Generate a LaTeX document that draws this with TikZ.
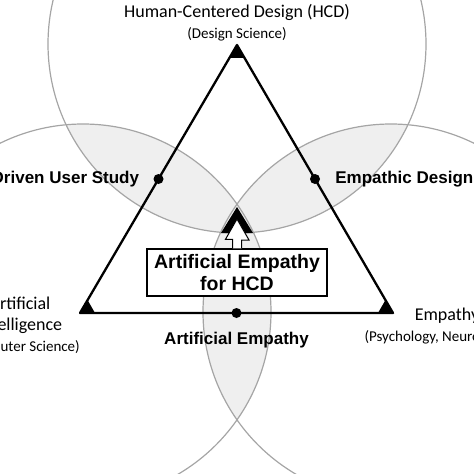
\documentclass[tikz,border=0pt]{standalone}
\usepackage{fontspec}
\setmainfont{Carlito}
\newfontfamily\boldsans{Liberation Sans}
\usetikzlibrary{calc,positioning}

\definecolor{lensgray}{RGB}{239,239,239}
\definecolor{ringgray}{RGB}{165,165,165}
\newcommand{\subsize}{\fontsize{15}{18}\selectfont}

\tikzset{
  field/.style={font=\fontsize{18}{21}\selectfont, align=center, inner sep=0pt},
  pairlabel/.style={font=\boldsans\bfseries\fontsize{17}{20}\selectfont, inner sep=0pt},
  dot/.style={circle, fill=black, inner sep=0pt, minimum size=10pt},
  ring/.style={radius=188pt}
}

\begin{document}
\begin{tikzpicture}[x=1pt,y=-1pt]
    \useasboundingbox (0,0) rectangle (474,474);
    \clip (0,0) rectangle (474,474);

    % Centres of the three fields
    \coordinate (HCD) at (237,44);
    \coordinate (AI) at (83,312);
    \coordinate (EMP) at (391,312);

    % Overlaps (shaded)
    \begin{scope}
      \clip (HCD) circle[radius=189pt];
      \fill[lensgray] (AI) circle[ring];
      \fill[lensgray] (EMP) circle[ring];
    \end{scope}
    \begin{scope}
      \clip (AI) circle[ring];
      \fill[lensgray] (EMP) circle[ring];
    \end{scope}

    % Rings
    \draw[ringgray, line width=1.2pt] (HCD) circle[radius=189pt] (AI) circle[ring] (EMP) circle[ring];

    % Triangle corners
    \coordinate (T) at (237,45);
    \coordinate (L) at (80,313);
    \coordinate (R) at (393,313);

    \draw[line width=2.3pt, line join=round] (T) -- (L) -- (R) -- cycle;
    \fill (T) -- ($(T)!15pt!(L)$) -- ($(T)!15pt!(R)$) -- cycle;
    \fill (L) -- ($(L)!15pt!(T)$) -- ($(L)!15pt!(R)$) -- cycle;
    \fill (R) -- ($(R)!15pt!(T)$) -- ($(R)!15pt!(L)$) -- cycle;

    % Midpoints of the sides
    \node[dot] (ddus) at ($(T)!0.5!(L)$) {};
    \node[dot] (ed) at ($(T)!0.5!(R)$) {};
    \node[dot] (ae) at ($(L)!0.5!(R)$) {};

    % Fields
    \node[field] (hcd) at (237,23) {Human-Centered Design (HCD)\\{\subsize (Design Science)}};
    \node[field] (ai) at (20,325) {Artificial\\Intelligence\\{\subsize (Computer Science)}};
    \node[field] (emp) at (447,326) {Empathy\\{\subsize (Psychology, Neuroscience)}};

    % Pairwise labels
    \node[pairlabel, left=14pt of ddus] (ddusl) {Data-Driven User Study};
    \node[pairlabel, right=15pt of ed] (edl) {Empathic Design};
    \node[pairlabel, below=14pt of ae] (ael) {Artificial Empathy};

    % Centre box and arrow
    \node[draw, fill=white, line width=1.4pt, minimum width=180pt, minimum height=47pt, inner sep=0pt,
          align=center, font=\boldsans\bfseries\fontsize{19.5}{22}\selectfont] (box) at (237,272.5)
          {Artificial Empathy\\for HCD};
    \fill (237,207) -- (221,233) -- (253,233) -- cycle;
    \draw[fill=white, line width=1pt, line join=miter]
      ([xshift=-4.5pt]box.north) -- ++(0,-9) -- ++(-7,0) -- (237,219) -- (249,240) -- ++(-7.5,0)
      -- ([xshift=4.5pt]box.north);
\end{tikzpicture}
\end{document}
